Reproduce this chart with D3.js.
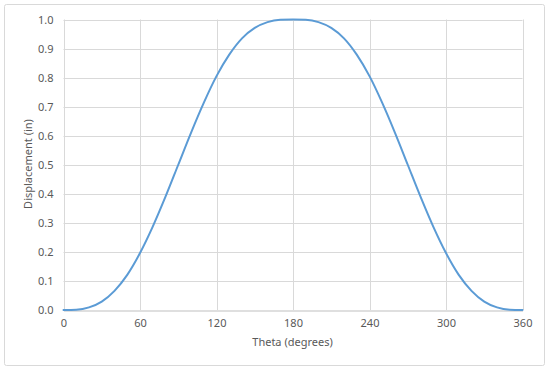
<!DOCTYPE html>
<html>
<head>
<meta charset="utf-8">
<script src="https://cdn.jsdelivr.net/npm/d3@7"></script>
<style>
  body { margin: 0; background: #fff; }
  text { font-family: "Noto Sans", "Open Sans", sans-serif; fill: #595959; }
</style>
</head>
<body>
<svg id="chart" width="550" height="372"></svg>
<script>
// cam follower displacement, every 10 degrees
const theta = [0, 10, 20, 30, 40, 50, 60, 70, 80, 90, 100, 110, 120, 130, 140, 150, 160, 170, 180,
  190, 200, 210, 220, 230, 240, 250, 260, 270, 280, 290, 300, 310, 320, 330, 340, 350, 360];
const displacement = [0, 0.001, 0.009, 0.029, 0.066, 0.121, 0.196, 0.287, 0.39, 0.5, 0.61, 0.713, 0.805, 0.879, 0.935, 0.971, 0.991, 0.999, 1,
  0.999, 0.991, 0.971, 0.935, 0.879, 0.805, 0.713, 0.61, 0.5, 0.39, 0.287, 0.196, 0.121, 0.066, 0.029, 0.009, 0.001, 0];

const xTicks = [0, 60, 120, 180, 240, 300, 360];
const yTicks = [0, 0.1, 0.2, 0.3, 0.4, 0.5, 0.6, 0.7, 0.8, 0.9, 1.0];

const svg = d3.select("#chart");
const plotLeft = 63.5, plotRight = 522.5, plotTop = 19.5, plotBottom = 310;

// chart border
svg.append("rect")
  .attr("x", 4.5).attr("y", 4.5)
  .attr("width", 540).attr("height", 361)
  .attr("rx", 2)
  .attr("fill", "#fff")
  .attr("stroke", "#d9d9d9");

const x = d3.scaleLinear().domain([0, 360]).range([plotLeft, plotRight]);
const y = d3.scaleLinear().domain([0, 1]).range([plotBottom, plotTop]);

// gridlines
svg.append("g").selectAll("line")
  .data(yTicks.filter(d => d > 0))
  .enter().append("line")
  .attr("x1", plotLeft).attr("x2", plotRight)
  .attr("y1", d => Math.round(y(d)) + 0.5).attr("y2", d => Math.round(y(d)) + 0.5)
  .attr("stroke", "#d9d9d9");

svg.append("g").selectAll("line")
  .data(xTicks)
  .enter().append("line")
  .attr("x1", d => Math.round(x(d)) + 0.5).attr("x2", d => Math.round(x(d)) + 0.5)
  .attr("y1", plotTop).attr("y2", plotBottom)
  .attr("stroke", "#d9d9d9");

// x axis
const xAxis = svg.append("g")
  .attr("transform", `translate(0, ${Math.round(plotBottom) + 0.5})`)
  .call(d3.axisBottom(x).tickValues(xTicks).tickSize(0).tickPadding(9).tickFormat(d3.format("d")));
xAxis.select(".domain").attr("stroke", "#bfbfbf");
xAxis.selectAll("text").attr("font-size", "11px").attr("fill", "#595959")
  .style("font-family", "\"Noto Sans\", sans-serif");

// y axis
const yAxis = svg.append("g")
  .attr("transform", `translate(${plotLeft}, 0)`)
  .call(d3.axisLeft(y).tickValues(yTicks).tickSize(0).tickPadding(10).tickFormat(d3.format(".1f")));
yAxis.select(".domain").remove();
yAxis.selectAll("text").attr("font-size", "11px").attr("fill", "#595959")
  .style("font-family", "\"Noto Sans\", sans-serif");

// the curve
const pts = theta.map((t, i) => ({ t: t, v: displacement[i] }));
svg.append("path")
  .datum(pts)
  .attr("fill", "none")
  .attr("stroke", "#5b9bd5")
  .attr("stroke-width", 2)
  .attr("stroke-linecap", "round")
  .attr("d", d3.line().x(d => x(d.t)).y(d => y(d.v)).curve(d3.curveMonotoneX));

// axis titles
svg.append("text")
  .attr("x", 292.5).attr("y", 346)
  .attr("text-anchor", "middle")
  .attr("font-size", "11px")
  .text("Theta (degrees)");

svg.append("text")
  .attr("transform", `translate(32, 164) rotate(-90)`)
  .attr("text-anchor", "middle")
  .attr("font-size", "11px")
  .text("Displacement (in)");
</script>
</body>
</html>
